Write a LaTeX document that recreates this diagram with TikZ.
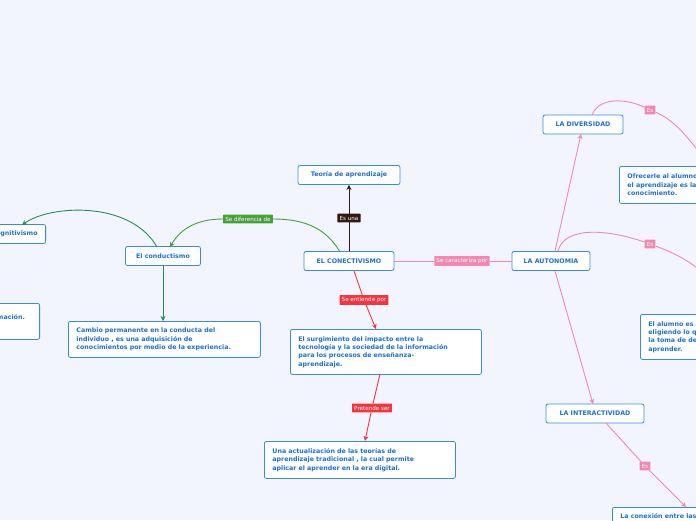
\documentclass[tikz,border=0pt]{standalone}
\usepackage{fontspec}
\setmainfont{DejaVu Sans}
\usetikzlibrary{arrows.meta}
\definecolor{bg}{HTML}{F2F5FE}
\definecolor{tx}{HTML}{1F6FD0}
\definecolor{bd}{HTML}{3A8BE0}
\definecolor{grn}{HTML}{45A03A}
\definecolor{dgrn}{HTML}{2A8A55}
\definecolor{dk}{HTML}{2E1A0E}
\definecolor{rd}{HTML}{F2353F}
\definecolor{pk}{HTML}{F288B2}
\tikzset{x=1pt,y=-1pt,
 box/.style={draw=bd,line width=0.8pt,fill=white,rounded corners=2pt,text=tx,font=\fontsize{6.3}{8.3}\selectfont\bfseries,inner xsep=8pt,inner ysep=4pt},
 tbox/.style={box,align=left},
 lab/.style={fill=#1,text=white,font=\fontsize{5.6}{6.5}\selectfont,inner sep=2.2pt,rounded corners=0.5pt},
 con/.style={draw=#1,line width=0.9pt,-{Stealth[length=5pt,width=5pt]}},
 lin/.style={draw=#1,line width=0.9pt}}
\begin{document}
\begin{tikzpicture}
\fill[bg] (0,0) rectangle (696,520);
\useasboundingbox (0,0) rectangle (696,520);
\clip (0,0) rectangle (696,520);
% nodes
\node[box,minimum width=90pt,minimum height=19pt] (con) at (349,261) {EL CONECTIVISMO};
\node[box,minimum width=102pt,minimum height=19pt] (teo) at (349,175) {Teoría de aprendizaje};
\node[box,minimum width=78pt,minimum height=19pt] (aut) at (551,261) {LA AUTONOMIA};
\node[box,minimum width=75pt,minimum height=19pt] (cond) at (163,256) {El conductismo};
\node[box,minimum height=19pt,anchor=east] (cog) at (46,234) {El cognitivismo};
\node[tbox,anchor=north east,text width=90pt,minimum height=36pt] (inf) at (40,303) {procesa la información.\\Aprender es lo};
\node[tbox,anchor=north west,text width=176pt,minimum height=36pt] (cam) at (68,321) {Cambio permanente en la conducta del\\individuo , es una adquisición de\\conocimientos por medio de la experiencia.};
\node[tbox,anchor=north west,text width=175pt,minimum height=45pt] (sur) at (290,329) {El surgimiento del impacto entre la\\tecnología y la sociedad de la información\\para los procesos de enseñanza-\\aprendizaje.};
\node[tbox,anchor=north west,text width=175pt,minimum height=37pt] (act) at (264,441) {Una actualización de las teorías de\\aprendizaje tradicional , la cual permite\\aplicar el aprender en la era digital.};
\node[box,minimum width=80pt,minimum height=19pt] (div) at (583,124.5) {LA DIVERSIDAD};
\node[tbox,anchor=north west,minimum height=37pt] (ofr) at (619,166) {Ofrecerle al alumno la diversidad\\el aprendizaje es la base del\\conocimiento.};
\node[tbox,anchor=north west,minimum height=45pt] (alu) at (640,314) {El alumno es autónomo\\eligiendo lo que quiere\\la toma de decisiones al\\aprender.};
\node[box,minimum width=98pt,minimum height=19pt] (int) at (595,413.5) {LA INTERACTIVIDAD};
\node[box,anchor=north west,minimum height=19pt] (cnx) at (612,507) {La conexión entre las personas};
% labels
\node[lab=dk] (l1) at (349,218) {Es una};
\node[lab=grn] (l2) at (248,219) {Se diferencia de};
\node[lab=pk] (l3) at (462,261) {Se caracteriza por};
\node[lab=rd] (l4) at (364,300) {Se entiende por};
\node[lab=rd] (l5) at (372,408) {Pretende ser};
\node[lab=pk] (l6) at (650,110) {Es};
\node[lab=pk] (l7) at (650,244) {Es};
\node[lab=pk] (l8) at (645,466) {Es};
\coordinate (e6) at (705,160);
\coordinate (e7) at (705,275);
% edges
\draw[lin=dk] (con.north) -- (l1);
\draw[con=dk] (l1) -- (teo.south);
\draw[lin=grn] (340,252) to[out=120,in=0] (l2);
\draw[con=grn] (l2) to[out=180,in=60] (170,247);
\draw[con=dgrn] (157,247) .. controls (130,200) and (50,205) .. (22,225);
\draw[con=dgrn] (cond.south) -- (cam.north -| cond.south);
\draw[lin=rd] (354,271) -- (l4);
\draw[con=rd] (l4) -- (376,329);
\draw[lin=rd] (380,374) -- (l5);
\draw[con=rd] (l5) -- (365,441);
\draw[lin=pk] (con.east) -- (l3);
\draw[lin=pk] (l3) -- (aut.west);
\draw[con=pk] (555,251) -- (581,134);
\draw[con=pk] (555,271) -- (593,404);
\draw[lin=pk] (558,251) .. controls (565,225) and (610,230) .. (l7);
\draw[lin=pk] (l7) .. controls (680,255) and (695,265) .. (e7);
\draw[lin=pk] (592,115) .. controls (600,95) and (630,100) .. (l6);
\draw[lin=pk] (l6) .. controls (675,120) and (690,140) .. (e6);
\draw[lin=pk] (606,423) -- (l8);
\draw[con=pk] (l8) -- (686,507);
\end{tikzpicture}
\end{document}
